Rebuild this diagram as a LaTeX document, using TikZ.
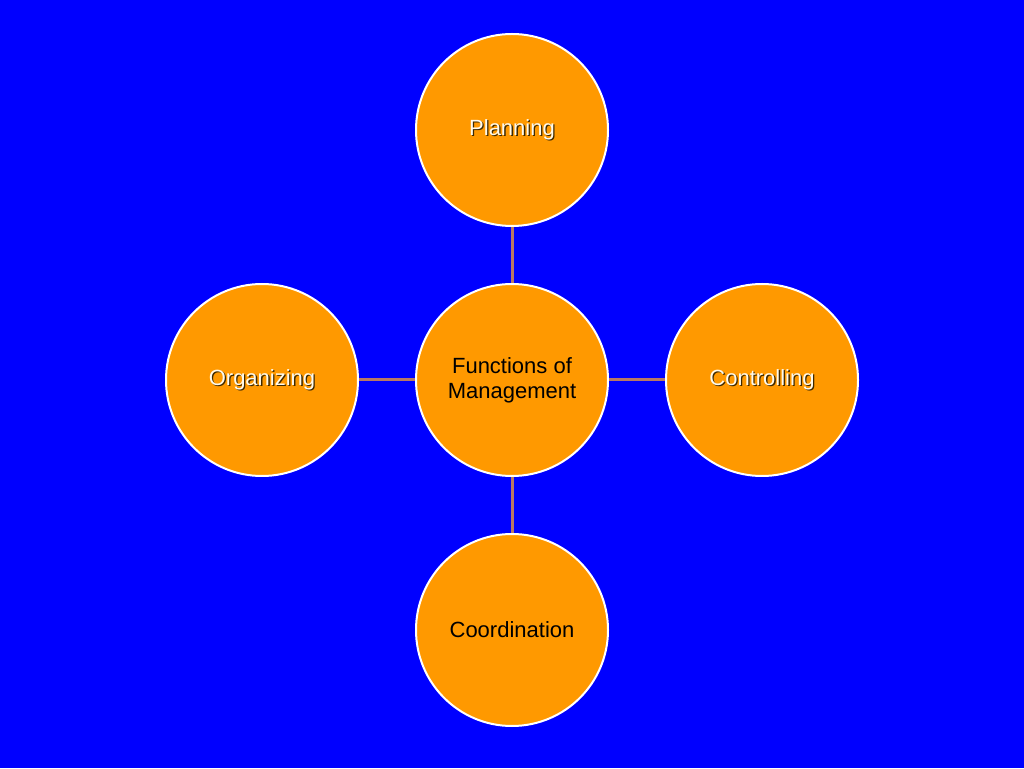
\documentclass[tikz,border=0pt]{standalone}
\usepackage{fontspec}
\setmainfont{Liberation Sans}
\definecolor{slideblue}{RGB}{0,0,255}
\definecolor{discorange}{RGB}{255,153,0}
\definecolor{linkbrown}{RGB}{185,120,100}
\definecolor{shadowbrown}{RGB}{60,40,0}
\definecolor{lighttext}{RGB}{255,250,235}
\newcommand{\shadowed}[1]{\makebox[0pt][l]{\hspace{1.3pt}\raisebox{-1.3pt}{\textcolor{shadowbrown}{#1}}}\textcolor{lighttext}{#1}}
\tikzset{
  disc/.style={circle, draw=white, line width=2pt, fill=discorange,
    minimum size=192pt, inner sep=0pt, align=center,
    font=\fontsize{22}{25}\selectfont},
  link/.style={draw=linkbrown, line width=3pt}
}

\begin{document}
\begin{tikzpicture}[x=1pt,y=1pt]
    % slide background
    \fill[slideblue] (0,0) rectangle (1024,768);
    \useasboundingbox (0,0) rectangle (1024,768);

    \node[disc] (hub) at (512,388) {Functions of\\Management};
    \node[disc] (plan) at (512,638) {\shadowed{Planning}};
    \node[disc] (org) at (262,388) {\shadowed{Organizing}};
    \node[disc] (ctrl) at (762,388) {\shadowed{Controlling}};
    \node[disc] (coord) at (512,138) {Coordination};

    % connectors
    \draw[link] (hub.north) -- (plan.south);
    \draw[link] (hub.west) -- (org.east);
    \draw[link] (hub.east) -- (ctrl.west);
    \draw[link] (hub.south) -- (coord.north);
\end{tikzpicture}
\end{document}
